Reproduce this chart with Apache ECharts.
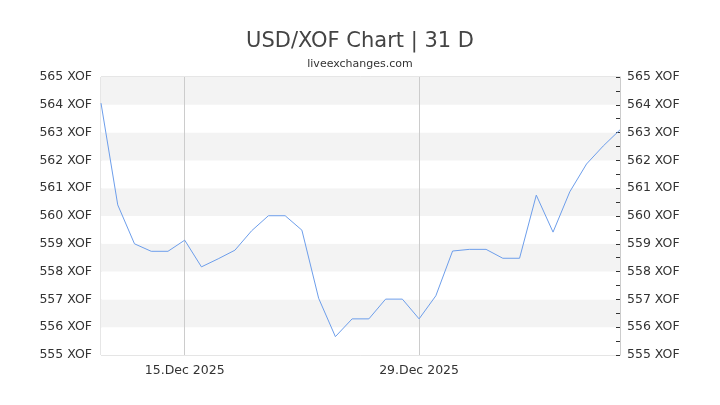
<!DOCTYPE html>
<html>
<head>
<meta charset="utf-8">
<script src="https://cdn.jsdelivr.net/npm/echarts@6/dist/echarts.min.js"></script>
<style>
  html, body { margin: 0; padding: 0; background: #fff; }
  #chart { width: 720px; height: 405px; }
</style>
</head>
<body>
<div id="chart"></div>
<script>
const dates = [
  "10.Dec 2025", "11.Dec 2025", "12.Dec 2025", "13.Dec 2025", "14.Dec 2025",
  "15.Dec 2025", "16.Dec 2025", "17.Dec 2025", "18.Dec 2025", "19.Dec 2025",
  "20.Dec 2025", "21.Dec 2025", "22.Dec 2025", "23.Dec 2025", "24.Dec 2025",
  "25.Dec 2025", "26.Dec 2025", "27.Dec 2025", "28.Dec 2025", "29.Dec 2025",
  "30.Dec 2025", "31.Dec 2025", "01.Jan 2026", "02.Jan 2026", "03.Jan 2026",
  "04.Jan 2026", "05.Jan 2026", "06.Jan 2026", "07.Jan 2026", "08.Jan 2026",
  "09.Jan 2026", "10.Jan 2026"
];
const rates = [
  564.06, 560.40, 559.00, 558.73, 558.73, 559.13, 558.17, 558.46, 558.77, 559.47,
  560.01, 560.01, 559.49, 557.04, 555.66, 556.30, 556.30, 557.01, 557.01, 556.30,
  557.13, 558.74, 558.80, 558.80, 558.48, 558.48, 560.75, 559.42, 560.87, 561.87,
  562.52, 563.10
];
const labeledDates = ["15.Dec 2025", "29.Dec 2025"];

const showTick = (i, v) => labeledDates.includes(v);
const font = "DejaVu Sans";

const myChart = echarts.init(document.getElementById("chart"));
const yCommon = {
  type: "value",
  min: 555,
  max: 565,
  interval: 1,
  axisLabel: {
    formatter: (v) => v + " XOF",
    color: "#333",
    fontFamily: font,
    fontSize: 12.5,
    margin: 9
  }
};

myChart.setOption({
  animation: false,
  title: {
    text: "USD/XOF Chart | 31 D",
    subtext: "liveexchanges.com",
    left: "center",
    top: 26,
    itemGap: 7,
    textStyle: { fontFamily: font, fontSize: 21, fontWeight: "normal", color: "#444" },
    subtextStyle: { fontFamily: font, fontSize: 11, color: "#333" }
  },
  grid: {
    left: 101,
    right: 100,
    top: 77,
    bottom: 50,
    show: true,
    borderColor: "#ccc",
    borderWidth: 1
  },
  xAxis: {
    type: "category",
    data: dates,
    boundaryGap: false,
    axisLine: { show: false },
    axisTick: { show: false },
    axisLabel: {
      interval: showTick,
      color: "#333",
      fontFamily: font,
      fontSize: 12.5,
      margin: 9
    },
    splitLine: {
      show: true,
      interval: showTick,
      lineStyle: { color: "#ccc", width: 1 }
    }
  },
  yAxis: [
    Object.assign({}, yCommon, {
      position: "left",
      axisLine: { show: false },
      axisTick: { show: false },
      splitLine: { show: false },
      splitArea: { show: true, areaStyle: { color: ["#ffffff", "#f3f3f3"] } }
    }),
    Object.assign({}, yCommon, {
      position: "right",
      axisLine: { show: true, lineStyle: { color: "#ccc" } },
      axisTick: { show: true, inside: true, length: 4, lineStyle: { color: "#333" } },
      minorTick: { show: true, splitNumber: 2, length: 4, lineStyle: { color: "#333" } },
      splitLine: { show: false },
      axisLabel: Object.assign({}, yCommon.axisLabel, { margin: 7 })
    })
  ],
  series: [
    {
      type: "line",
      data: rates,
      yAxisIndex: 0,
      symbol: "none",
      lineStyle: { color: "#6d9eeb", width: 1 }
    }
  ]
});
</script>
</body>
</html>
